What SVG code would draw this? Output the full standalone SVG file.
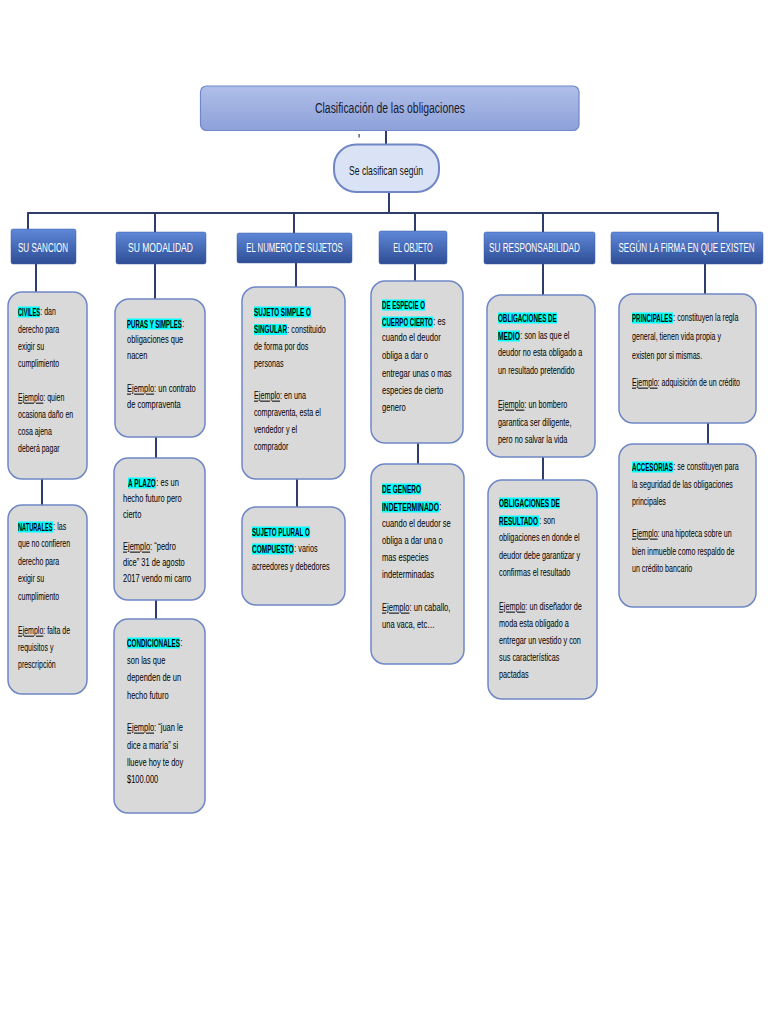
<svg xmlns="http://www.w3.org/2000/svg" width="768" height="1024" viewBox="0 0 768 1024">
<defs>
<linearGradient id="hg" x1="0" y1="0" x2="0" y2="1">
<stop offset="0" stop-color="#5f88d8"/><stop offset="1" stop-color="#2e4d95"/>
</linearGradient>
<linearGradient id="tg" x1="0" y1="0" x2="0" y2="1">
<stop offset="0" stop-color="#b0bfe9"/><stop offset="1" stop-color="#8da1d9"/>
</linearGradient>
</defs>
<style>
.conn{stroke:#2e3d6b;stroke-width:2;fill:none}
.box{fill:#d9d9d9;stroke:#6f87c5;stroke-width:1.5}
.hdr{fill:url(#hg);stroke:#3e5ea6;stroke-width:0.5}
.ht{font-family:"Liberation Sans",Arial,sans-serif;font-size:13px;fill:#ffffff;text-anchor:middle}
.t{font-family:"Liberation Sans",Arial,sans-serif;font-size:10px;fill:#000000}
.k{font-weight:bold}
.hl{fill:#00ffff}
.u{text-decoration:underline}
</style>
<rect width="768" height="1024" fill="#ffffff"/>

<g id="connectors">
<line class="conn" x1="386" y1="130" x2="386" y2="145"/>
<line class="conn" x1="389" y1="192" x2="389" y2="213"/>
<line class="conn" x1="28" y1="213" x2="718" y2="213"/>
<line class="conn" x1="28" y1="212" x2="28" y2="229"/>
<line class="conn" x1="155" y1="212" x2="155" y2="232"/>
<line class="conn" x1="294" y1="212" x2="294" y2="233"/>
<line class="conn" x1="415" y1="212" x2="415" y2="231"/>
<line class="conn" x1="543" y1="212" x2="543" y2="232"/>
<line class="conn" x1="718" y1="212" x2="718" y2="232"/>
<line class="conn" x1="36" y1="264" x2="36" y2="292"/>
<line class="conn" x1="155" y1="264" x2="155" y2="299"/>
<line class="conn" x1="296" y1="263" x2="296" y2="287"/>
<line class="conn" x1="415" y1="264" x2="415" y2="281"/>
<line class="conn" x1="543" y1="264" x2="543" y2="295"/>
<line class="conn" x1="705" y1="264" x2="705" y2="294"/>
<line class="conn" x1="42" y1="479" x2="42" y2="505"/>
<line class="conn" x1="156" y1="437" x2="156" y2="458"/>
<line class="conn" x1="156" y1="600" x2="156" y2="619"/>
<line class="conn" x1="297" y1="479" x2="297" y2="507"/>
<line class="conn" x1="418" y1="443" x2="418" y2="464"/>
<line class="conn" x1="543" y1="457" x2="543" y2="480"/>
<line class="conn" x1="708" y1="423" x2="708" y2="444"/>
</g>

<g id="title">
<rect x="200.5" y="86" width="378.5" height="44.5" rx="6" fill="url(#tg)" stroke="#7088c8" stroke-width="1.2"/>
<text transform="translate(390,113) scale(0.695,1)" x="0" y="0" font-family="'Liberation Sans',Arial,sans-serif" font-size="15" fill="#1a1a2e" text-anchor="middle">Clasificación de las obligaciones</text>
<rect x="358.5" y="134" width="1.2" height="3.5" fill="#2e3d6b"/>
</g>

<g id="se-clasifican">
<rect x="334" y="144.5" width="105" height="47.5" rx="22" fill="#dae3f5" stroke="#6f87c5" stroke-width="2"/>
<text transform="translate(386,174.5) scale(0.687,1)" x="0" y="0" font-family="'Liberation Sans',Arial,sans-serif" font-size="12.5" fill="#111111" text-anchor="middle">Se clasifican según</text>
</g>

<g id="h-sancion"><rect class="hdr" x="11" y="229" width="65" height="35" rx="2"/><text class="ht" transform="translate(43,251.5) scale(0.62,1)" x="0" y="0">SU SANCION</text></g>
<g id="h-modalidad"><rect class="hdr" x="116" y="232" width="90" height="32" rx="2"/><text class="ht" transform="translate(160.5,251.5) scale(0.657,1)" x="0" y="0">SU MODALIDAD</text></g>
<g id="h-sujetos"><rect class="hdr" x="237" y="233" width="115" height="30" rx="2"/><text class="ht" transform="translate(294.5,251.5) scale(0.597,1)" x="0" y="0">EL NUMERO DE SUJETOS</text></g>
<g id="h-objeto"><rect class="hdr" x="379" y="231" width="68" height="33" rx="2"/><text class="ht" transform="translate(413,251.5) scale(0.559,1)" x="0" y="0">EL OBJETO</text></g>
<g id="h-responsabilidad"><rect class="hdr" x="484" y="232" width="111" height="32" rx="2"/><text class="ht" transform="translate(534.5,251.5) scale(0.63,1)" x="0" y="0">SU RESPONSABILIDAD</text></g>
<g id="h-firma"><rect class="hdr" x="611" y="232" width="152" height="32" rx="2"/><text class="ht" transform="translate(686.5,251.5) scale(0.616,1)" x="0" y="0">SEGÚN LA FIRMA EN QUE EXISTEN</text></g>

<g id="civiles">
<rect class="box" x="8" y="292" width="79" height="187" rx="14"/>
<g transform="translate(18,0) scale(0.70,1)">
<rect class="hl" x="0" y="306.5" width="31.4" height="11"/>
<text class="t k" transform="translate(0,315.5) scale(0.807,1)" x="0" y="0">CIVILES</text><text class="t" x="31.9" y="315.5">: dan</text>
<text class="t" x="0" y="333.5">derecho para</text>
<text class="t" x="0" y="350.5">exigir su</text>
<text class="t" x="0" y="367.5">cumplimiento</text>
<text class="t" x="0" y="401.5"><tspan class="u">Ejemplo</tspan>: quien</text>
<text class="t" x="0" y="418.5">ocasiona daño en</text>
<text class="t" x="0" y="435.5">cosa ajena</text>
<text class="t" x="0" y="452.5">deberá pagar</text>
</g>
</g>

<g id="naturales">
<rect class="box" x="8" y="505" width="79" height="189" rx="14"/>
<g transform="translate(18,0) scale(0.70,1)">
<rect class="hl" x="0" y="521.5" width="50" height="11"/>
<text class="t k" transform="translate(0,530.5) scale(0.81,1)" x="0" y="0">NATURALES</text><text class="t" x="50.5" y="530.5">: las</text>
<text class="t" x="0" y="547.5">que no confieren</text>
<text class="t" x="0" y="565.5">derecho para</text>
<text class="t" x="0" y="582.5">exigir su</text>
<text class="t" x="0" y="600.5">cumplimiento</text>
<text class="t" x="0" y="634.5"><tspan class="u">Ejemplo</tspan>: falta de</text>
<text class="t" x="0" y="651.5">requisitos y</text>
<text class="t" x="0" y="668.5">prescripción</text>
</g>
</g>

<g id="puras">
<rect class="box" x="115" y="299" width="90" height="138" rx="14"/>
<g transform="translate(127,0) scale(0.75,1)">
<rect class="hl" x="0" y="318.5" width="73.3" height="11"/>
<text class="t k" transform="translate(0,327.5) scale(0.805,1)" x="0" y="0">PURAS Y SIMPLES</text><text class="t" x="73.8" y="327.5">:</text>
<text class="t" x="0" y="343">obligaciones que</text>
<text class="t" x="0" y="359">nacen</text>
<text class="t" x="0" y="392.5"><tspan class="u">Ejemplo</tspan>: un contrato</text>
<text class="t" x="0" y="408.5">de compraventa</text>
</g>
</g>

<g id="plazo">
<rect class="box" x="114" y="458" width="91" height="142" rx="14"/>
<g transform="translate(123,0) scale(0.75,1)">
<rect class="hl" x="6.7" y="477.5" width="37.3" height="11"/>
<text class="t k" transform="translate(6.7,486.5) scale(0.85,1)" x="0" y="0">A PLAZO</text><text class="t" x="44.5" y="486.5">: es un</text>
<text class="t" x="0" y="502.5">hecho futuro pero</text>
<text class="t" x="0" y="518.5">cierto</text>
<text class="t" x="0" y="550.5"><tspan class="u">Ejemplo</tspan>: “pedro</text>
<text class="t" x="0" y="566.5">dice” 31 de agosto</text>
<text class="t" x="0" y="582.5">2017 vendo mi carro</text>
</g>
</g>

<g id="condicionales">
<rect class="box" x="114" y="619" width="91" height="194" rx="14"/>
<g transform="translate(127,0) scale(0.75,1)">
<rect class="hl" x="0" y="637.5" width="70.7" height="11"/>
<text class="t k" transform="translate(0,646.5) scale(0.843,1)" x="0" y="0">CONDICIONALES</text><text class="t" x="71.2" y="646.5">:</text>
<text class="t" x="0" y="664.5">son las que</text>
<text class="t" x="0" y="681.5">dependen de un</text>
<text class="t" x="0" y="699.5">hecho futuro</text>
<text class="t" x="0" y="731.5"><tspan class="u">Ejemplo</tspan>: “juan le</text>
<text class="t" x="0" y="749.5">dice a maría”  si</text>
<text class="t" x="0" y="766.5">llueve hoy te doy</text>
<text class="t" x="0" y="783.5">$100.000</text>
</g>
</g>

<g id="sujeto-simple">
<rect class="box" x="242" y="287" width="103" height="192" rx="14"/>
<g transform="translate(254,0) scale(0.72,1)">
<rect class="hl" x="0" y="306.5" width="79.2" height="11"/>
<text class="t k" transform="translate(0,315.5) scale(0.874,1)" x="0" y="0">SUJETO SIMPLE O</text>
<rect class="hl" x="0" y="324" width="45.8" height="11"/>
<text class="t k" transform="translate(0,333) scale(0.877,1)" x="0" y="0">SINGULAR</text><text class="t" x="46.3" y="333">: constituido</text>
<text class="t" x="0" y="350.5">de forma por dos</text>
<text class="t" x="0" y="367.5">personas</text>
<text class="t" x="0" y="399.5"><tspan class="u">Ejemplo</tspan>: en una</text>
<text class="t" x="0" y="416.5">compraventa, esta el</text>
<text class="t" x="0" y="433.5">vendedor y el</text>
<text class="t" x="0" y="450.5">comprador</text>
</g>
</g>

<g id="sujeto-plural">
<rect class="box" x="242" y="507" width="103" height="98" rx="14"/>
<g transform="translate(252,0) scale(0.72,1)">
<rect class="hl" x="0" y="526.5" width="80.6" height="11"/>
<text class="t k" transform="translate(0,535.5) scale(0.858,1)" x="0" y="0">SUJETO PLURAL O</text>
<rect class="hl" x="0" y="543.5" width="58.3" height="11"/>
<text class="t k" transform="translate(0,552.5) scale(0.904,1)" x="0" y="0">COMPUESTO</text><text class="t" x="58.8" y="552.5">: varios</text>
<text class="t" x="0" y="570.5">acreedores y debedores</text>
</g>
</g>

<g id="especie">
<rect class="box" x="371" y="281" width="92" height="162" rx="14"/>
<g transform="translate(382,0) scale(0.76,1)">
<rect class="hl" x="0" y="299.5" width="56.6" height="11"/>
<text class="t k" transform="translate(0,308.5) scale(0.802,1)" x="0" y="0">DE ESPECIE O</text>
<rect class="hl" x="0" y="316.5" width="67.1" height="11"/>
<text class="t k" transform="translate(0,325.5) scale(0.806,1)" x="0" y="0">CUERPO CIERTO</text><text class="t" x="67.6" y="325.5">: es</text>
<text class="t" x="0" y="341.5">cuando el deudor</text>
<text class="t" x="0" y="359.5">obliga a dar o</text>
<text class="t" x="0" y="377.5">entregar unas o mas</text>
<text class="t" x="0" y="394.5">especies de cierto</text>
<text class="t" x="0" y="411.5">genero</text>
</g>
</g>

<g id="genero">
<rect class="box" x="371" y="464" width="93" height="200" rx="14"/>
<g transform="translate(382,0) scale(0.76,1)">
<rect class="hl" x="0" y="483.5" width="51.3" height="11"/>
<text class="t k" transform="translate(0,492.5) scale(0.855,1)" x="0" y="0">DE GENERO</text>
<rect class="hl" x="0" y="501.5" width="75" height="11"/>
<text class="t k" transform="translate(0,510.5) scale(0.889,1)" x="0" y="0">INDETERMINADO</text><text class="t" x="75.5" y="510.5">:</text>
<text class="t" x="0" y="527.5">cuando el deudor se</text>
<text class="t" x="0" y="544.5">obliga a dar una o</text>
<text class="t" x="0" y="561.5">mas especies</text>
<text class="t" x="0" y="578.5">indeterminadas</text>
<text class="t" x="0" y="611.5"><tspan class="u">Ejemplo</tspan>: un caballo,</text>
<text class="t" x="0" y="628.5">una vaca, etc…</text>
</g>
</g>

<g id="medio">
<rect class="box" x="487" y="295" width="108" height="162" rx="14"/>
<g transform="translate(498,0) scale(0.73,1)">
<rect class="hl" x="0" y="312.5" width="80.8" height="11"/>
<text class="t k" transform="translate(0,321.5) scale(0.86,1)" x="0" y="0">OBLIGACIONES DE</text>
<rect class="hl" x="0" y="330.5" width="30.1" height="11"/>
<text class="t k" transform="translate(0,339.5) scale(0.918,1)" x="0" y="0">MEDIO</text><text class="t" x="30.6" y="339.5">: son las que el</text>
<text class="t" x="0" y="356.5">deudor no esta obligado a</text>
<text class="t" x="0" y="374.5">un resultado pretendido</text>
<text class="t" x="0" y="408.5"><tspan class="u">Ejemplo</tspan>: un bombero</text>
<text class="t" x="0" y="426.5">garantica ser diligente,</text>
<text class="t" x="0" y="443.5">pero no salvar la vida</text>
</g>
</g>

<g id="resultado">
<rect class="box" x="488" y="480" width="109" height="219" rx="14"/>
<g transform="translate(499,0) scale(0.73,1)">
<rect class="hl" x="0" y="497.5" width="83.6" height="11"/>
<text class="t k" transform="translate(0,506.5) scale(0.89,1)" x="0" y="0">OBLIGACIONES DE</text>
<rect class="hl" x="0" y="515.5" width="54.8" height="11"/>
<text class="t k" transform="translate(0,524.5) scale(0.881,1)" x="0" y="0">RESULTADO</text><text class="t" x="55.3" y="524.5">: son</text>
<text class="t" x="0" y="541.5">obligaciones en donde el</text>
<text class="t" x="0" y="559.5">deudor debe garantizar y</text>
<text class="t" x="0" y="576.5">confirmas el resultado</text>
<text class="t" x="0" y="610.5"><tspan class="u">Ejemplo</tspan>: un diseñador de</text>
<text class="t" x="0" y="627.5">moda esta obligado a</text>
<text class="t" x="0" y="644.5">entregar un vestido y con</text>
<text class="t" x="0" y="661.5">sus características</text>
<text class="t" x="0" y="678.5">pactadas</text>
</g>
</g>

<g id="principales">
<rect class="box" x="619" y="294" width="137" height="129" rx="14"/>
<g transform="translate(632,0) scale(0.71,1)">
<rect class="hl" x="0" y="312.5" width="57.7" height="11"/>
<text class="t k" transform="translate(0,321.5) scale(0.859,1)" x="0" y="0">PRINCIPALES</text><text class="t" x="58.2" y="321.5">: constituyen la regla</text>
<text class="t" x="0" y="340.5">general, tienen vida propia y</text>
<text class="t" x="0" y="359.5">existen por si mismas.</text>
<text class="t" x="0" y="386.5"><tspan class="u">Ejemplo</tspan>: adquisición de un crédito</text>
</g>
</g>

<g id="accesorias">
<rect class="box" x="619" y="444" width="137" height="163" rx="14"/>
<g transform="translate(632,0) scale(0.71,1)">
<rect class="hl" x="0" y="461.5" width="57.7" height="11"/>
<text class="t k" transform="translate(0,470.5) scale(0.865,1)" x="0" y="0">ACCESORIAS</text><text class="t" x="58.2" y="470.5">: se constituyen para</text>
<text class="t" x="0" y="488.5">la seguridad de las obligaciones</text>
<text class="t" x="0" y="505.5">principales</text>
<text class="t" x="0" y="537.5"><tspan class="u">Ejemplo</tspan>: una hipoteca sobre un</text>
<text class="t" x="0" y="555.5">bien inmueble como respaldo de</text>
<text class="t" x="0" y="572.5">un crédito bancario</text>
</g>
</g>
</svg>
